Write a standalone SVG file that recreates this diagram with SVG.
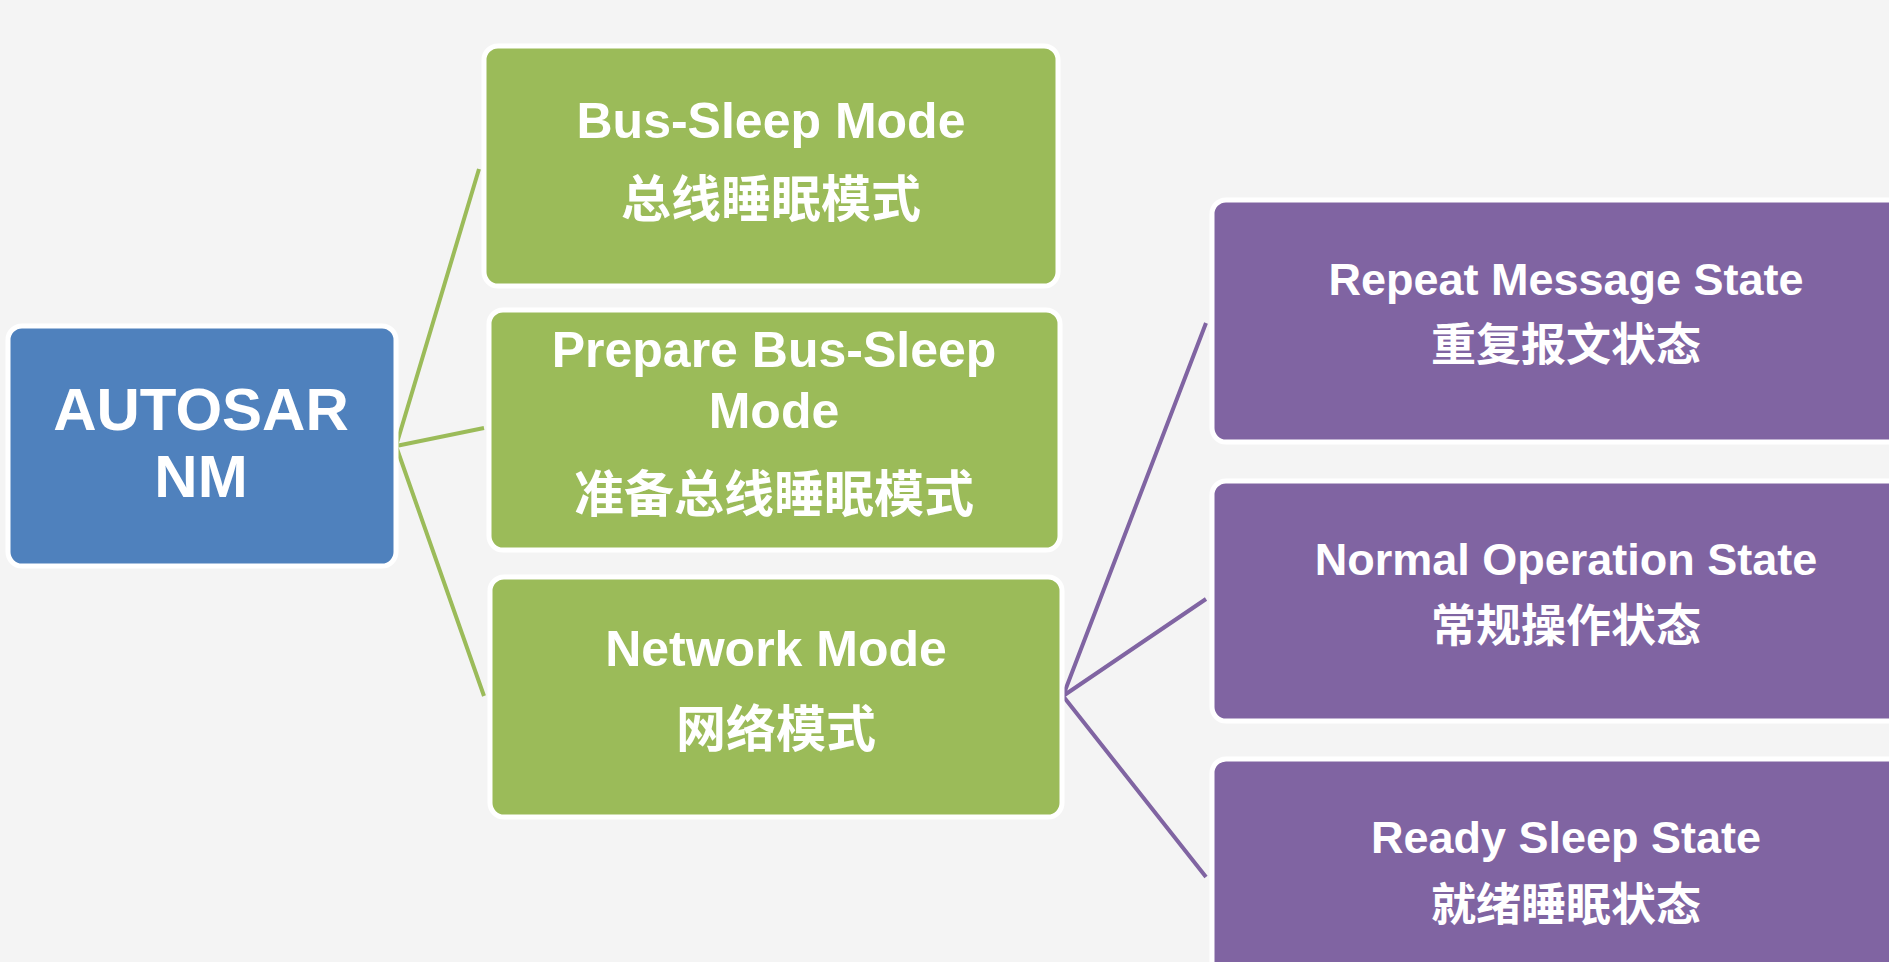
<svg xmlns="http://www.w3.org/2000/svg" width="1889" height="962" viewBox="0 0 1889 962">
<style>
.n{stroke:#fff;stroke-width:5}
.t{font-family:"Liberation Sans","Noto Sans CJK SC",sans-serif;font-weight:bold;fill:#fff;text-anchor:middle}
.g{font-size:50px}.p{font-size:45px}.a{font-size:60px}
</style>
<rect width="1889" height="962" fill="#f4f4f4"/>
<g id="connectors" fill="none" stroke-width="4">
<path d="M396 446L479 169M396 446L484 428M396 446L484 696" stroke="#9bbb59"/>
<path d="M1063 696L1206 323M1063 696L1206 599M1063 696L1206 877" stroke="#8064a2"/>
</g>
<g id="autosar"><rect class="n" x="8" y="326" width="388" height="240" rx="14" fill="#4f81bd"/>
<text class="t a" x="201" y="430">AUTOSAR</text><text class="t a" x="201" y="497">NM</text></g>
<g id="bussleep"><rect class="n" x="484" y="46" width="574" height="240" rx="14" fill="#9bbb59"/>
<text class="t g" x="771" y="138">Bus-Sleep Mode</text><text class="t g" x="771" y="217">总线睡眠模式</text></g>
<g id="prepare"><rect class="n" x="489" y="310" width="571" height="240" rx="14" fill="#9bbb59"/>
<text class="t g" x="774" y="367">Prepare Bus-Sleep</text><text class="t g" x="774" y="428">Mode</text><text class="t g" x="774" y="512">准备总线睡眠模式</text></g>
<g id="network"><rect class="n" x="490" y="577" width="572" height="240" rx="14" fill="#9bbb59"/>
<text class="t g" x="776" y="666">Network Mode</text><text class="t g" x="776" y="747">网络模式</text></g>
<g id="repeat"><rect class="n" x="1212" y="200" width="700" height="242" rx="14" fill="#8064a2"/>
<text class="t p" x="1566" y="295">Repeat Message State</text><text class="t p" x="1566" y="361">重复报文状态</text></g>
<g id="normal"><rect class="n" x="1212" y="481" width="700" height="240" rx="14" fill="#8064a2"/>
<text class="t p" x="1566" y="575">Normal Operation State</text><text class="t p" x="1566" y="642">常规操作状态</text></g>
<g id="ready"><rect class="n" x="1212" y="759" width="700" height="240" rx="14" fill="#8064a2"/>
<text class="t p" x="1566" y="853">Ready Sleep State</text><text class="t p" x="1566" y="921">就绪睡眠状态</text></g>
</svg>
